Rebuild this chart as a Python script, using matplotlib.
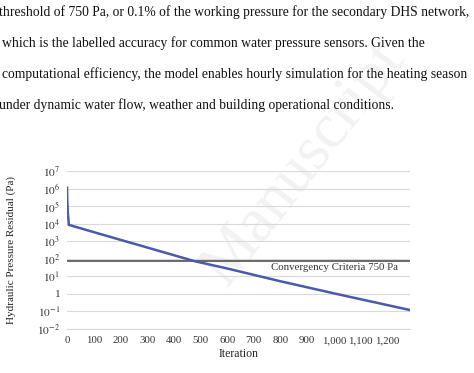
import matplotlib
matplotlib.use("Agg")
import matplotlib.pyplot as plt
from matplotlib.ticker import FixedLocator, NullLocator

# page text above the figure
page_lines = [
    "threshold of 750 Pa, or 0.1% of the working pressure for the secondary DHS network,",
    "which is the labelled accuracy for common water pressure sensors. Given the",
    "computational efficiency, the model enables hourly simulation for the heating season",
    "under dynamic water flow, weather and building operational conditions.",
]
page_x = [-0.003, 0.004, 0.004, -0.003]

# residual curve
iterations = [0, 1, 3, 7, 100, 200, 300, 400, 481, 600, 800, 1000, 1200, 1285]
residual = [1.1e6, 2.0e5, 4.0e4, 8.5e3, 3.3e3, 1.2e3, 4.4e2, 1.6e2, 71,
            28, 5.2, 1.07, 0.23, 0.12]

criteria_value = 72
criteria_label = "Convergency Criteria 750 Pa"

y_ticks = [1e7, 1e6, 1e5, 1e4, 1e3, 1e2, 1e1, 1, 1e-1, 1e-2]
y_labels = [r"$10^{7}$", r"$10^{6}$", r"$10^{5}$", r"$10^{4}$", r"$10^{3}$",
            r"$10^{2}$", r"$10^{1}$", "1", r"$10^{-1}$", r"$10^{-2}$"]
x_ticks = list(range(0, 1201, 100))
x_labels = ["0", "100", "200", "300", "400", "500", "600", "700", "800",
            "900", "1,000", "1,100", "1,200"]

plt.rcParams["font.family"] = ["Liberation Serif", "DejaVu Serif"]
plt.rcParams["mathtext.fontset"] = "stix"

fig = plt.figure(figsize=(4.74, 3.73), dpi=100)

# faint watermark behind everything
fig.text(0.64, 0.56, "Manuscript", fontsize=46, color="#f2f2f2", rotation=52,
         ha="center", va="center", zorder=-5)

for i, line in enumerate(page_lines):
    fig.text(page_x[i], 1 - (11.7 + 31 * i) / 373, line, fontsize=9.8,
             ha="left", va="center", color="#111111")

ax = fig.add_axes([0.1414, 0.118, 0.7236, 0.4236])
ax.set_facecolor("none")
ax.set_yscale("log")
ax.set_ylim(1e-2, 1e7)
ax.set_xlim(0, 1285)

ax.plot(iterations, residual, color="#4a5aaa", lw=1.8, zorder=3)
ax.axhline(criteria_value, color="#404040", lw=1.1, zorder=2)
ax.text(1240, criteria_value * 0.8, criteria_label, fontsize=7.8,
        ha="right", va="top", color="#333333")

ax.yaxis.set_major_locator(FixedLocator(y_ticks))
ax.yaxis.set_minor_locator(NullLocator())
ax.set_yticklabels(y_labels)
ax.set_xticks(x_ticks)
ax.set_xticklabels(x_labels)
ax.grid(axis="y", color="#d9d9d9", lw=0.8)
for s in ["top", "right", "left"]:
    ax.spines[s].set_visible(False)
ax.spines["bottom"].set_color("#d9d9d9")
ax.tick_params(axis="y", length=0, labelsize=8.2, pad=5, colors="#333333")
ax.tick_params(axis="x", length=0, labelsize=7.8, pad=5, colors="#333333")

ax.set_xlabel("Iteration", fontsize=8.5, color="#222222", labelpad=2)
ax.set_ylabel("Hydraulic Pressure Residual (Pa)", fontsize=8,
              color="#222222")
ax.yaxis.set_label_coords(-0.148, 0.5)

fig.savefig("out.png", dpi=100)
